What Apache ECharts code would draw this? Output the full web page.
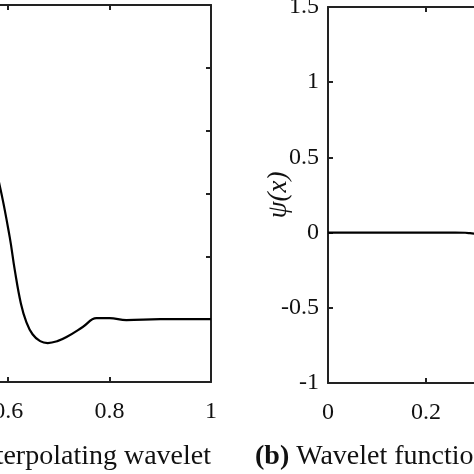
<!DOCTYPE html>
<html>
<head>
<meta charset="utf-8">
<script src="https://cdn.jsdelivr.net/npm/echarts@6/dist/echarts.min.js"></script>
<style>
  html, body { margin: 0; padding: 0; background: #fff; }
  #chart { width: 474px; height: 474px; }
</style>
</head>
<body>
<div id="chart"></div>
<script>
// (a) interpolating wavelet (left side mirrored)
var phiX = [0.0, 0.1, 0.2, 0.22, 0.253, 0.285, 0.303, 0.322, 0.337, 0.352, 0.364, 0.375, 0.387, 0.397, 0.417, 0.5,
            0.583, 0.603, 0.613, 0.625, 0.636, 0.648, 0.663, 0.678, 0.697, 0.715, 0.747, 0.774, 0.8, 0.833, 0.9, 1.0];
var phiY = [0, 0, 0, 0.003, 0.003, -0.025, -0.057, -0.07, -0.076, -0.07, -0.048, -0.01, 0.05, 0.156, 0.427, 1.0,
            0.427, 0.261, 0.156, 0.05, -0.01, -0.048, -0.07, -0.076, -0.07, -0.057, -0.025, 0.003, 0.003, -0.003, 0, 0];
// (b) wavelet function psi(x), visible part
var psiX = [0, 0.1, 0.2, 0.26, 0.28, 0.29, 0.3];
var psiY = [0, 0, 0, 0, -0.001, -0.004, -0.008];

var leftTicks = { min: -0.2, max: 1.0, interval: 0.2 };
var rightTicks = { min: -1, max: 1.5, interval: 0.5 };

function pairs(xs, ys) {
  return xs.map(function (x, i) { return [x, ys[i]]; });
}

var font = 'Liberation Serif';
var ink = '#222';

function xAx(grid, pos, labels) {
  return {
    type: 'value', gridIndex: grid, position: pos, min: 0, max: 1, interval: 0.2,
    axisLine: { show: true, onZero: false, lineStyle: { color: ink, width: 2 } },
    axisTick: { show: true, inside: true, length: 5, lineStyle: { color: ink, width: 2 } },
    axisLabel: { show: labels, margin: 18, color: '#111', fontFamily: font, fontSize: 24 },
    splitLine: { show: false }
  };
}
function yAx(grid, pos, labels, t, name) {
  return {
    type: 'value', gridIndex: grid, position: pos, min: t.min, max: t.max, interval: t.interval,
    name: name || '', nameLocation: 'middle', nameGap: 36, nameRotate: 90, nameMoveOverlap: false,
    nameTextStyle: { fontFamily: font, fontSize: 27, fontStyle: 'italic', color: '#111' },
    axisLine: { show: true, onZero: false, lineStyle: { color: ink, width: 2 } },
    axisTick: { show: true, inside: true, length: 5, lineStyle: { color: ink, width: 2 } },
    axisLabel: { show: labels, margin: 9, color: '#111', fontFamily: font, fontSize: 24 },
    splitLine: { show: false }
  };
}

var chart = echarts.init(document.getElementById('chart'));
chart.setOption({
  animation: false,
  backgroundColor: '#fff',
  grid: [
    { left: -296, top: 5, width: 507, height: 377, outerBoundsMode: 'none', containLabel: false },
    { left: 328, top: 7, width: 490, height: 376, outerBoundsMode: 'none', containLabel: false }
  ],
  xAxis: [xAx(0, 'bottom', true), xAx(0, 'top', false), xAx(1, 'bottom', true), xAx(1, 'top', false)],
  yAxis: [yAx(0, 'left', true, leftTicks), yAx(0, 'right', false, leftTicks),
          yAx(1, 'left', true, rightTicks, 'ψ(x)'), yAx(1, 'right', false, rightTicks)],
  series: [
    {
      type: 'line', xAxisIndex: 0, yAxisIndex: 0, data: pairs(phiX, phiY),
      smooth: 0.4, showSymbol: false, lineStyle: { color: '#000', width: 2.2 }
    },
    {
      type: 'line', xAxisIndex: 2, yAxisIndex: 2, data: pairs(psiX, psiY),
      smooth: 0.4, showSymbol: false, lineStyle: { color: '#000', width: 2.2 }
    }
  ],
  graphic: [
    {
      type: 'text', x: 211, y: 457,
      style: { text: '(a) Interpolating wavelet', align: 'right', verticalAlign: 'middle',
               font: '28px "Liberation Serif"', fill: '#111' }
    },
    {
      type: 'text', x: 255, y: 457,
      style: { text: '{b|(b)} Wavelet function', align: 'left', verticalAlign: 'middle',
               font: '28px "Liberation Serif"', fill: '#111',
               rich: { b: { fontWeight: 'bold', fontSize: 28, fontFamily: font } } }
    }
  ]
});
</script>
</body>
</html>
